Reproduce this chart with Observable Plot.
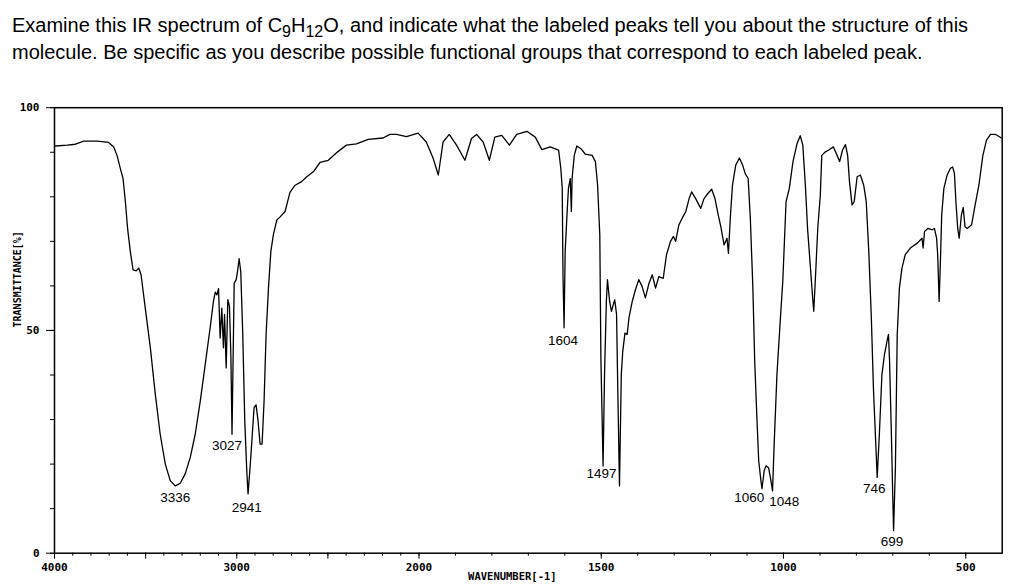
<!DOCTYPE html>
<html><head><meta charset="utf-8">
<script src="https://cdn.jsdelivr.net/npm/d3@7"></script>
<script src="https://cdn.jsdelivr.net/npm/@observablehq/plot@0.6"></script>
<style>
body{margin:0;background:#fff;}
#title{height:88px;box-sizing:border-box;padding:12px 0 0 12px;font-family:"Liberation Sans",Arial,sans-serif;font-size:20px;line-height:27px;color:#000;white-space:nowrap;}
#title sub{font-size:0.8em;vertical-align:-0.3em;line-height:0;}
#chart svg{display:block;}
</style></head><body>
<div id="title">Examine this IR spectrum of C<sub>9</sub>H<sub>12</sub>O, and indicate what the labeled peaks tell you about the structure of this<br>molecule. Be specific as you describe possible functional groups that correspond to each labeled peak.</div>
<div id="chart"></div>
<script>
// Spectrum (wavenumber in cm-1, transmittance in %)
const wavenumber = [
3995,3930,3885,3840,3766,3703,3675,3657,3639,3624,3611,3599,3584,3569,3551,3538,3525,3502,3474,3447,3420,3392,3365,3337,3310,3283,3255,3228,3200,3173,3146,3128,3118,3109,3100,3091,3082,3073,3067,3058,3049,3040,3032,3026,3020,3014,3003,2996,2987,2978,2967,2956,2945,2938,2927,2917,2905,2894,2883,2872,2861,2850,2839,2826,2813,2799,2780,2762,2735,2708,
2680,2644,2616,2580,2543,2498,2443,2398,2343,2279,2197,2160,2124,2069,2005,1980,1961,1947,1934,1917,1897,1874,1856,1842,1824,1807,1792,1773,1752,1732,
1704,1681,1663,1640,1617,1611,1607,1605,1602,1599,1594,1590,1585,1582,1580,1574,1567,1556,1544,1525,1516,1510,1504,1501,1495,1491,1486,1483,1477,1472,1467,1463,1458,1455,1450,1445,1441,1435,1429,1424,1415,1406,1397,1388,1379,1369,1360,1351,1342,1330,1321,1310,1302,1296,1287,1278,1268,1259,1252,1241,1227,1218,1207,1197,1188,1179,1172,1163,1155,1151,1146,1140,1131,1121,1112,1105,1097,1091,1084,1079,1073,1068,1062,1059,1053,1048,1041,1036,1030,1026,1018,1009,1002,
993,984,974,963,954,947,940,934,926,920,917,912,906,899,895,885,876,863,853,846,838,830,824,819,812,806,798,789,780,773,766,759,753,746,743,737,730,723,716,712,709,704,700,698,693,688,682,675,666,652,633,620,617,613,604,592,586,580,577,573,569,566,560,551,542,536,531,527,522,518,512,507,502,496,484,476,464,453,443,432,418,402
];
const transmittance = [
91.4,91.6,91.8,92.5,92.5,92.2,91.2,89.3,86.4,84.1,78.9,72.9,67.7,63.6,63.4,64.0,62.5,55.0,46.1,35.7,26.7,20.0,16.3,15.1,15.7,17.8,21.5,26.7,34.2,42.4,50.6,56.5,58.6,58.0,59.4,48.3,55.0,46.1,53.6,41.6,56.9,55.4,43.8,26.7,43.8,60.6,61.4,63.2,66.1,63.2,49.1,29.7,18.5,13.3,19.2,25.2,32.7,33.3,29.7,24.5,24.5,34.2,49.1,59.5,67.7,71.5,74.8,75.5,76.7,81.0,
82.6,83.4,84.5,85.6,87.7,88.2,90.2,91.6,91.9,92.9,93.2,94.0,94.0,93.5,94.3,92.3,88.6,84.9,92.3,94.0,91.6,88.2,93.1,94.0,92.3,88.2,93.4,93.8,91.6,94.0,
94.7,93.4,90.6,91.2,90.5,86.4,81.9,62.5,50.6,67.7,75.9,81.9,84.1,76.7,84.1,89.3,91.4,90.8,89.6,89.3,87.9,82.6,71.5,43.8,19.6,40.1,56.5,61.4,56.5,54.3,55.8,56.9,53.6,38.6,15.1,40.1,45.3,49.4,49.1,52.8,56.5,59.2,61.4,59.9,57.3,60.6,62.5,59.5,62.1,61.7,67.0,70.0,71.1,70.0,73.7,75.2,76.7,79.6,81.1,79.6,77.4,79.6,80.8,81.7,79.6,75.9,73.3,69.2,70.7,67.3,75.2,82.6,87.1,88.7,87.1,85.2,84.1,75.2,59.5,43.1,30.4,20.7,16.3,14.5,18.5,19.6,19.2,17.0,14.0,23.7,40.1,52.1,61.0,
78.9,81.9,87.9,91.9,93.7,91.6,82.6,72.9,64.0,57.3,54.3,62.5,72.9,80.4,89.3,90.1,90.5,91.2,89.3,87.9,90.5,91.7,89.3,83.4,78.2,78.9,84.5,84.9,82.6,78.9,67.7,52.8,36.4,23.0,17.0,26.7,40.1,44.6,47.6,49.1,43.1,26.7,11.8,5.1,19.2,49.1,59.5,64.0,67.0,68.5,69.6,70.7,68.5,72.2,72.9,72.6,72.9,70.7,67.0,56.5,67.0,75.9,81.9,84.9,86.4,86.7,85.2,78.9,72.9,70.7,75.9,77.6,73.3,72.9,73.7,77.4,82.6,89.3,92.7,94.0,94.0,93.2
];

// Peak annotations
const peakText = ["3336","3027","2941","1604","1497","1060","1048","746","699"];
const peakLabelWn = [3337,3054,2945,1605,1499,1094,998,751,702];
const peakLabelT = [12.5,24.1,10.3,47.6,17.8,12.5,11.6,14.5,2.5];

// Axis: the scale is compressed 2:1 above 2000 cm-1 (breakpoints equally spaced on the page)
const xBreaks = [4000,3600,3200,2800,2400,2000,1800,1600,1400,1200,1000,800,600,400];
const majorX = [4000,3500,3000,2500,2000,1500,1000,500];
const majorXLabels = [4000,3000,2000,1500,1000,500];
const minorX = d3.range(4000, 2000, -100).concat(d3.range(2000, 400, -100));
const majorY = [0,50,100];
const minorY = d3.range(0, 101, 10);
const xTitle = "WAVENUMBER[-1]";
const yTitle = "TRANSMITTANCE[%]";

const spectrum = wavenumber.map((w, i) => ({w, t: transmittance[i]}));
const peaks = peakText.map((s, i) => ({s, w: peakLabelWn[i], t: peakLabelT[i]}));

const axisFont = {fontFamily: "DejaVu Sans Mono", fontWeight: "bold", fontSize: 11};

function build(useTransform) {
  const xScale = useTransform
    ? {domain: [0, 5200], transform: w => (w >= 2000 ? 4000 - w : 2000 + (2000 - w) * 2)}
    : {domain: xBreaks};
  return Plot.plot({
    width: 1024, height: 497,
    marginLeft: 54, marginRight: 22.3, marginTop: 19.2, marginBottom: 32.3,
    x: xScale,
    y: {domain: [0, 100]},
    style: {fontFamily: "DejaVu Sans Mono", fontSize: "11px", color: "#000", background: "#fff"},
    marks: [
      Plot.axisX(minorX, {tickSize: 3, tickFormat: () => "", label: null}),
      Plot.axisX(majorX, {tickSize: 6, tickFormat: () => "", label: null}),
      Plot.axisX(majorXLabels, {tickSize: 0, tickPadding: 10, label: null, tickFormat: d => String(d), ...axisFont}),
      Plot.axisY(minorY, {tickSize: 4, tickFormat: () => "", label: null}),
      Plot.axisY(majorY, {tickSize: 8, tickPadding: 7, label: null, tickFormat: d => String(d), ...axisFont}),
      Plot.frame({stroke: "#000", strokeWidth: 1.5}),
      Plot.line(spectrum, {x: "w", y: "t", stroke: "#000", strokeWidth: 1.3}),
      Plot.text(peaks, {x: "w", y: "t", text: "s", fontFamily: "Liberation Sans", fontSize: 13.5, fill: "#000"}),
      Plot.text([xTitle], {frameAnchor: "bottom", dx: -16, dy: 27, fontFamily: "DejaVu Sans Mono", fontWeight: "bold", fontSize: 10.5}),
      Plot.text([yTitle], {frameAnchor: "left", dx: -37, dy: -3, rotate: -90, fontFamily: "DejaVu Sans Mono", fontWeight: "bold", fontSize: 10})
    ]
  });
}

let chart;
try {
  chart = build(false);
  const sx = chart.scale("x");
  const p = sx.apply(2000), q = sx.apply(1000);
  if (!(Math.abs(p - 418.8) < 3 && Math.abs(q - 783.3) < 3)) chart = build(true);
} catch (e) {
  chart = build(true);
}
document.getElementById("chart").appendChild(chart);
</script>
</body></html>
